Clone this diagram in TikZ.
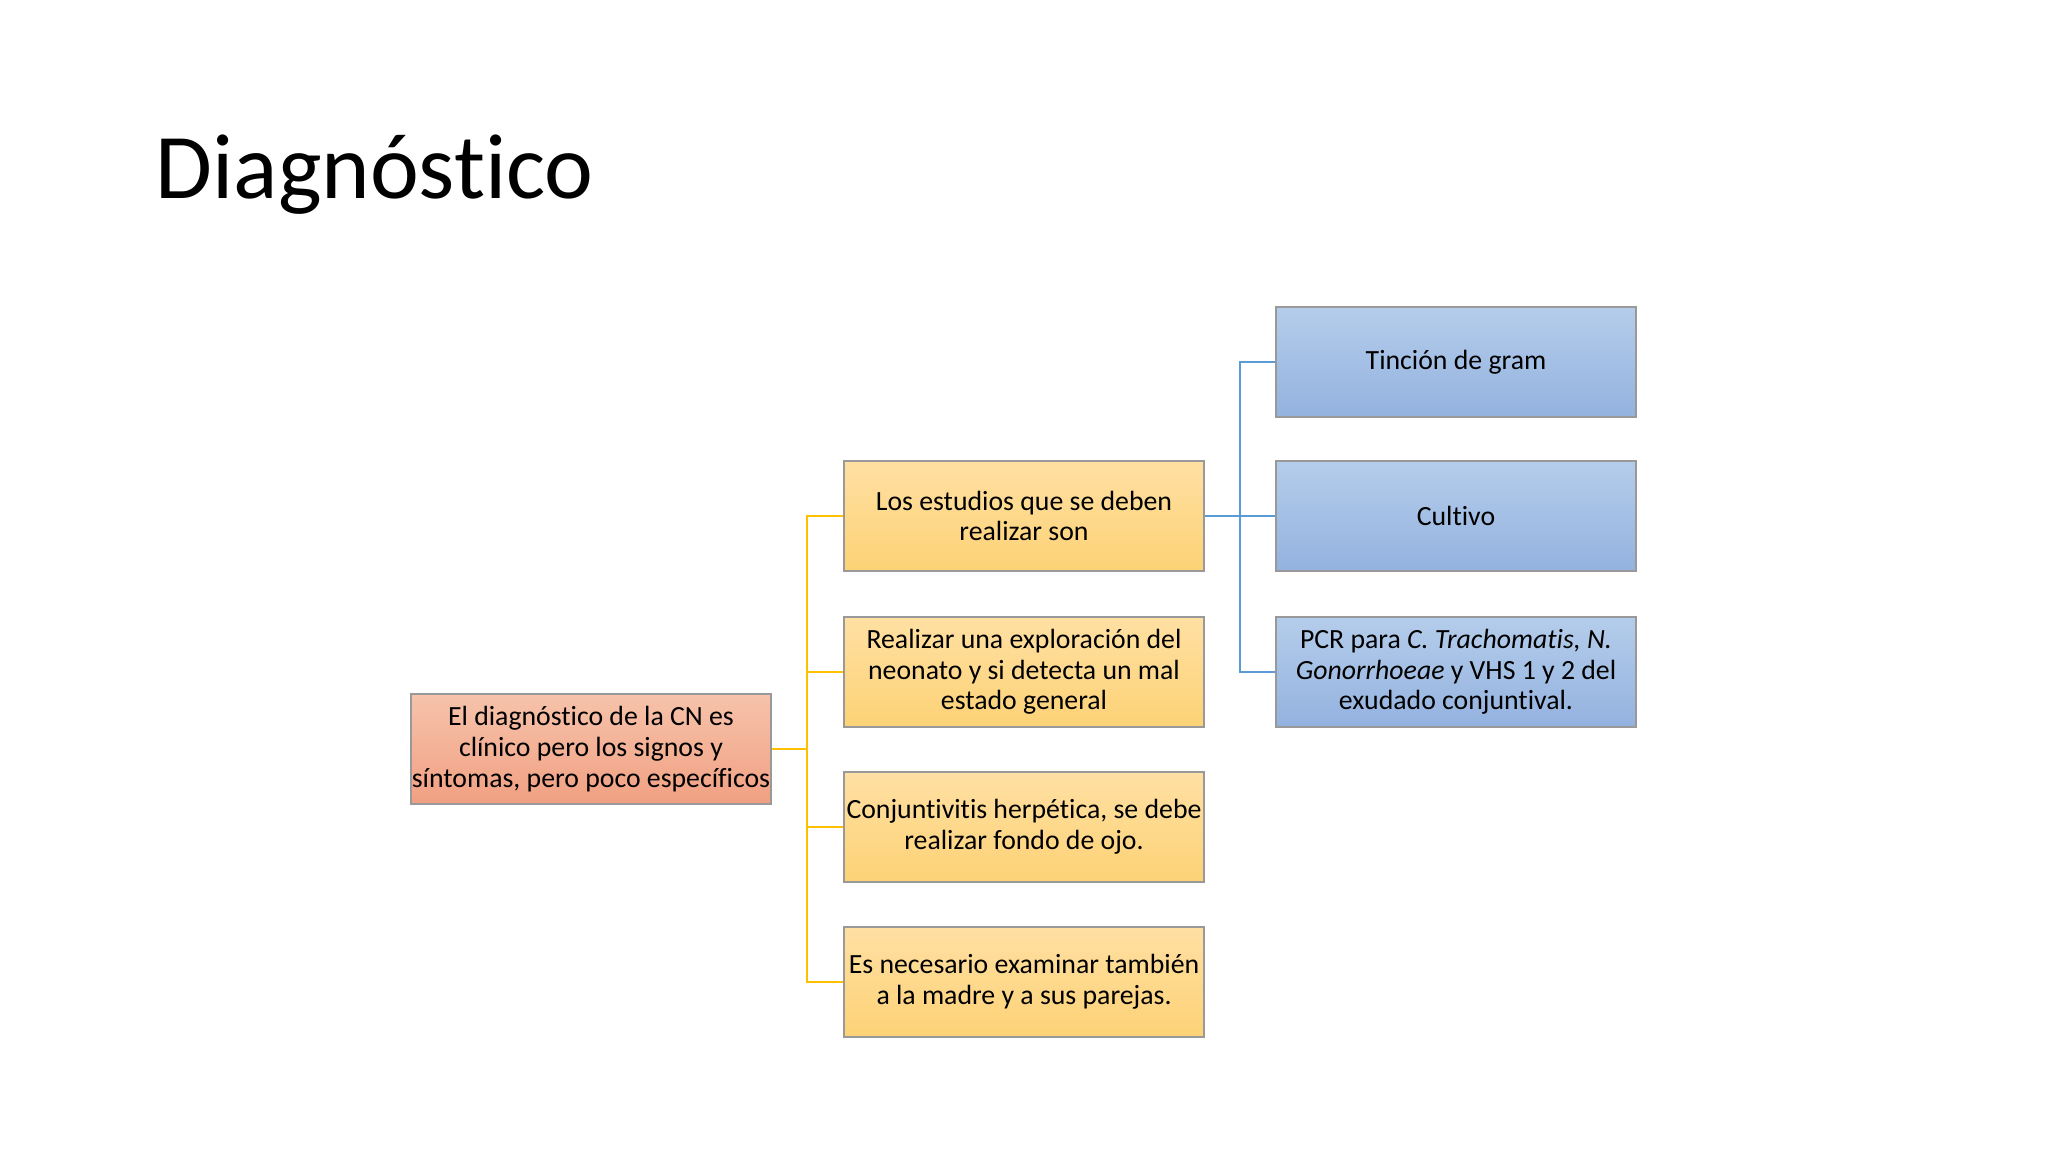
\documentclass[tikz,border=0pt]{standalone}
\usepackage{fontspec}
\setmainfont{Carlito}[Ligatures=NoCommon]
\definecolor{rootTop}{HTML}{F6C3AB}
\definecolor{rootBot}{HTML}{F1A082}
\definecolor{midTop}{HTML}{FFE0A3}
\definecolor{midBot}{HTML}{FDD276}
\definecolor{blueTop}{HTML}{B5CDEB}
\definecolor{blueBot}{HTML}{93B2DF}
\definecolor{yellowLine}{HTML}{FFC000}
\definecolor{blueLine}{HTML}{5B9BD5}
\tikzset{
  box/.style={draw=black!40, line width=0.4pt, minimum width=3.6cm, minimum height=1.1cm,
    inner xsep=0pt, inner ysep=1pt, align=center, font=\fontsize{7.9}{8.7}\selectfont},
  rootbox/.style={box, top color=rootTop, bottom color=rootBot},
  midbox/.style={box, top color=midTop, bottom color=midBot},
  bluebox/.style={box, top color=blueTop, bottom color=blueBot},
  yline/.style={yellowLine, line width=0.7pt},
  bline/.style={blueLine, line width=0.7pt}
}
\begin{document}
\begin{tikzpicture}[x=0.01cm, y=-0.01cm]
\useasboundingbox[fill=white] (0,0) rectangle (2048,1152);
\node[anchor=base west, inner sep=0, font=\fontsize{26.3}{28}\selectfont] (title) at (155,199) {Diagnóstico};
% tree
\node[rootbox] (root) at (591,749) {El diagnóstico de la CN es\\clínico pero los signos y\\síntomas, pero poco específicos};
\node[midbox] (m1) at (1024,516) {Los estudios que se deben\\realizar son};
\node[midbox] (m2) at (1024,672) {Realizar una exploración del\\neonato y si detecta un mal\\estado general};
\node[midbox] (m3) at (1024,827) {Conjuntivitis herpética, se debe\\realizar fondo de ojo.};
\node[midbox] (m4) at (1024,982) {Es necesario examinar también\\a la madre y a sus parejas.};
\node[bluebox] (r1) at (1456,362) {Tinción de gram};
\node[bluebox] (r2) at (1456,516) {Cultivo};
\node[bluebox] (r3) at (1456,672) {PCR para \textit{C. Trachomatis, N.}\\\textit{Gonorrhoeae} y VHS 1 y 2 del\\exudado conjuntival.};
\coordinate (ytrunk) at (807,749);
\coordinate (btrunk) at (1240,516);
\draw[yline] (root.east) -- (ytrunk);
\foreach \n in {m1,m2,m3,m4}
  \draw[yline] (ytrunk) |- (\n.west);
\draw[bline] (m1.east) -- (btrunk);
\foreach \n in {r1,r2,r3}
  \draw[bline] (btrunk) |- (\n.west);
\end{tikzpicture}
\end{document}
